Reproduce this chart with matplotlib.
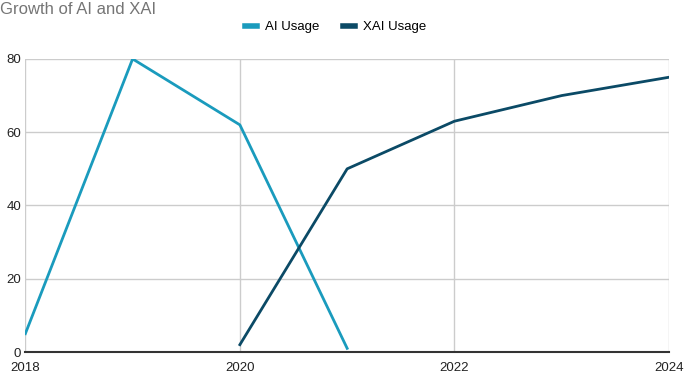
import matplotlib.pyplot as plt

years_ai = [2018, 2019, 2020, 2021]
ai_usage = [5, 80, 62, 1]
years_xai = [2020, 2021, 2022, 2023, 2024]
xai_usage = [2, 50, 63, 70, 75]

plt.rcParams['font.family'] = ['Liberation Sans', 'DejaVu Sans']

fig = plt.figure(figsize=(6.85, 3.73), dpi=100)
ax = fig.add_axes([0.037, 0.0563, 0.9396, 0.7857])

ax.plot(years_ai, ai_usage, color='#1a9bbd', linewidth=2, label='AI Usage')
ax.plot(years_xai, xai_usage, color='#0b4a66', linewidth=2, label='XAI Usage')

ax.set_xlim(2018, 2024)
ax.set_ylim(0, 80)
ax.set_xticks([2018, 2020, 2022, 2024])
ax.set_yticks([0, 20, 40, 60, 80])
ax.grid(True, color='#cccccc', linewidth=1)
ax.set_axisbelow(True)
for s in ['top', 'right', 'left']:
    ax.spines[s].set_visible(False)
ax.spines['bottom'].set_color('#333333')
ax.spines['bottom'].set_linewidth(1.5)
ax.tick_params(length=0, labelsize=9.5, colors='#222222')
ax.tick_params(axis='x', pad=7)
ax.tick_params(axis='y', pad=3)

fig.text(0.0, 0.995, 'Growth of AI and XAI', color='#757575', fontsize=12,
         ha='left', va='top')
fig.legend(loc='center', bbox_to_anchor=(0.49, 0.928), ncol=2, frameon=False,
           fontsize=9.5, handlelength=0.9, handletextpad=0.6, columnspacing=1.8,
           handleheight=0.5)
for h in fig.legends[0].legend_handles:
    h.set_linewidth(4)

fig.savefig('out.png', dpi=100)
